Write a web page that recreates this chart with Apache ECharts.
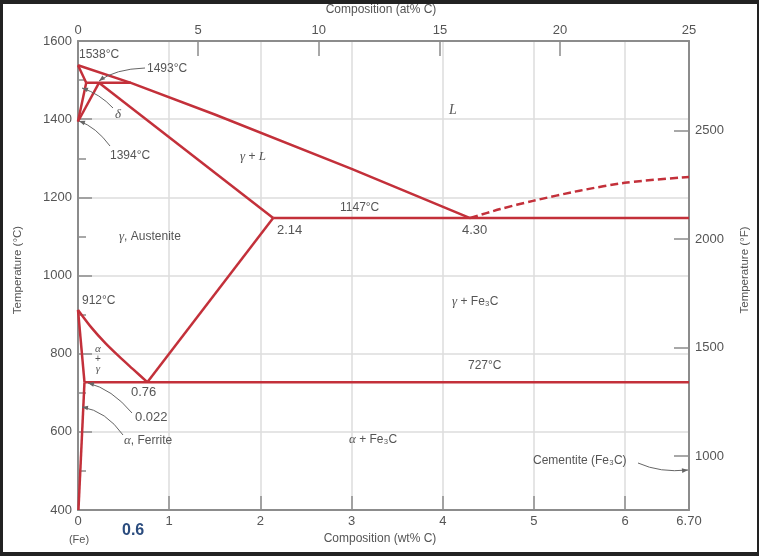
<!DOCTYPE html>
<html><head><meta charset="utf-8">
<script src="https://cdn.jsdelivr.net/npm/echarts@6/dist/echarts.min.js"></script>
<style>html,body{margin:0;padding:0;background:#fff}#c{width:759px;height:556px}</style>
</head><body><div id="c"></div>
<script>
// ---- axis ticks / labels ----
const wtTickLabels = [0, 1, 2, 3, 4, 5, 6, 6.70];
const wtTickMarks = [1, 2, 3, 4, 5, 6];
const atLabels = [0, 5, 10, 15, 20, 25];
const atPosWt = [0, 1.316, 2.64, 3.97, 5.285, 6.70];
const tempFTicks = [1000, 1500, 2000, 2500];

// ---- phase boundaries (wt% C, °C) ----
const liquidus = [[0, 1538], [0.58, 1493], [1.5, 1412], [3.0, 1273], [4.30, 1147]];
const deltaLiquidus = [[0, 1538], [0.09, 1493]];
const peritectic = [[0.09, 1493], [0.58, 1493]];
const deltaGammaLeft = [[0, 1394], [0.09, 1493]];
const deltaGammaRight = [[0, 1394], [0.23, 1493]];
const austeniteSolidus = [[0.23, 1493], [2.14, 1147]];
const eutectic = [[2.14, 1147], [6.70, 1147]];
const acmLine = [[0.76, 727], [2.14, 1147]];
const a3Line = [[0, 912], [0.15, 866], [0.30, 827], [0.45, 793], [0.60, 761], [0.76, 727]];
const alphaGamma = [[0, 912], [0.071, 727]];
const alphaSolvus = [[0.071, 727], [0.005, 400]];
const eutectoid = [[0.071, 727], [6.70, 727]];
const cementiteLiquidus = [[4.30, 1147], [4.63, 1170], [4.99, 1191], [5.50, 1217], [6.02, 1238], [6.70, 1252]];

const RED = '#c3303a';
const FONT = '"Liberation Sans", Arial, sans-serif';
const SERIF = '"Liberation Serif", "DejaVu Serif", serif';
const TXT = '#555';

const solid = [liquidus, deltaLiquidus, peritectic, deltaGammaLeft, deltaGammaRight,
  austeniteSolidus, eutectic, acmLine, alphaGamma, alphaSolvus, eutectoid];

const series = solid.map(d => ({
  type: 'line', data: d, symbol: 'none', silent: true, animation: false,
  xAxisIndex: 0, yAxisIndex: 0, lineStyle: { color: RED, width: 2.5 }
}));
series.push({ type: 'line', data: a3Line, symbol: 'none', smooth: 0.25, silent: true, animation: false,
  xAxisIndex: 0, yAxisIndex: 0, lineStyle: { color: RED, width: 2.5 } });
series.push({ type: 'line', data: cementiteLiquidus, symbol: 'none', smooth: 0.25, silent: true, animation: false,
  xAxisIndex: 0, yAxisIndex: 0, lineStyle: { color: RED, width: 2.5, type: [8, 4] } });

function T(x, y, text, o) {
  o = o || {};
  return { type: 'text', x: x, y: y, rotation: o.rot || 0, silent: true, z: 10,
    style: { text: text, x: 0, y: 0, fill: o.fill || TXT,
      font: (o.italic ? 'italic ' : '') + (o.weight || 'normal') + ' ' + (o.size || 12) + 'px ' + (o.family || FONT),
      textAlign: o.align || 'left', textVerticalAlign: 'middle', rich: o.rich } };
}
const greek = { g: { fontFamily: SERIF, fontStyle: 'italic', fontSize: 13, fill: TXT } };
const greekL = { g: { fontFamily: SERIF, fontStyle: 'italic', fontSize: 13, fill: TXT },
                 l: { fontFamily: SERIF, fontStyle: 'italic', fontSize: 13, fill: TXT } };

function arrow(x1, y1, cx, cy, x2, y2) {
  const a = Math.atan2(y2 - cy, x2 - cx);
  const L = 6, W = 2.3;
  const bx = x2 - L * Math.cos(a), by = y2 - L * Math.sin(a);
  const px = -Math.sin(a) * W, py = Math.cos(a) * W;
  return [
    { type: 'bezierCurve', silent: true, z: 10, shape: { x1: x1, y1: y1, x2: x2, y2: y2, cpx1: cx, cpy1: cy },
      style: { stroke: '#666', lineWidth: 1, fill: null } },
    { type: 'polygon', silent: true, z: 10, shape: { points: [[x2, y2], [bx + px, by + py], [bx - px, by - py]] },
      style: { fill: '#666' } }
  ];
}

const elements = [
  T(79, 55, '1538°C'),
  T(147, 69, '1493°C'),
  T(118, 115, 'δ', { family: SERIF, size: 13, align: 'center', italic: true }),
  T(110, 156, '1394°C'),
  T(240, 157, '{g|γ} + {l|L}', { rich: greekL }),
  T(453, 110, 'L', { family: SERIF, size: 14, align: 'center', italic: true }),
  T(340, 208, '1147°C'),
  T(277, 230, '2.14', { size: 13 }),
  T(462, 230, '4.30', { size: 13 }),
  T(119, 237, '{g|γ}, Austenite', { rich: greek }),
  T(82, 301, '912°C'),
  T(98, 349, 'α', { family: SERIF, size: 11, align: 'center', italic: true }),
  T(98, 359, '+', { size: 10, align: 'center' }),
  T(98, 369, 'γ', { family: SERIF, size: 11, align: 'center', italic: true }),
  T(452, 302, '{g|γ} + Fe₃C', { rich: greek }),
  T(468, 366, '727°C'),
  T(131, 392, '0.76', { size: 13 }),
  T(135, 417, '0.022', { size: 13 }),
  T(124, 441, '{g|α}, Ferrite', { rich: greek }),
  T(349, 440, '{g|α} + Fe₃C', { rich: greek }),
  T(533, 461, 'Cementite (Fe₃C)'),
  T(122, 531, '0.6', { size: 16, weight: 'bold', fill: '#2b4c7e' }),
  T(79, 540, '(Fe)', { size: 11, align: 'center' }),
  T(380, 539, 'Composition (wt% C)', { align: 'center' }),
  T(381, 10, 'Composition (at% C)', { align: 'center' }),
  T(18, 270, 'Temperature (°C)', { align: 'center', rot: Math.PI / 2, size: 11.5 }),
  T(745, 270, 'Temperature (°F)', { align: 'center', rot: Math.PI / 2, size: 11.5 }),
  ...arrow(145, 68, 115, 69, 99, 81),
  ...arrow(113, 108, 100, 94, 82, 88),
  ...arrow(110, 146, 96, 127, 79, 121),
  ...arrow(132, 413, 112, 389, 88, 383),
  ...arrow(123, 435, 106, 411, 82, 407),
  ...arrow(638, 463, 660, 473, 688, 470),
  { type: 'rect', silent: true, z: 100, shape: { x: 0, y: 0, width: 759, height: 4 }, style: { fill: '#222' } },
  { type: 'rect', silent: true, z: 100, shape: { x: 0, y: 0, width: 3, height: 556 }, style: { fill: '#222' } },
  { type: 'rect', silent: true, z: 100, shape: { x: 0, y: 552, width: 759, height: 4 }, style: { fill: '#222' } },
  { type: 'rect', silent: true, z: 100, shape: { x: 757, y: 0, width: 2, height: 556 }, style: { fill: '#222' } }
];

const AX = { color: '#8c8c8c', width: 2 };
const TK = { color: '#8c8c8c', width: 1.5 };
const LBL = { color: TXT, fontSize: 13, fontFamily: FONT };
const plain = v => String(v);

const option = {
  animation: false,
  backgroundColor: '#fff',
  grid: { left: 78, right: 70, top: 41, bottom: 46, containLabel: false },
  xAxis: [
    { type: 'value', position: 'bottom', min: 0, max: 6.70, interval: 1,
      axisLine: { show: true, onZero: false, lineStyle: AX },
      axisTick: { show: true, inside: true, length: 14, customValues: wtTickMarks, lineStyle: TK },
      axisLabel: Object.assign({ margin: 5, customValues: wtTickLabels,
        formatter: v => (Math.abs(v - 6.7) < 1e-6 ? '6.70' : String(v)) }, LBL),
      splitLine: { show: true, lineStyle: { color: '#dcdcdc', width: 1.5 } } },
    { type: 'value', position: 'top', min: 0, max: 6.70,
      axisLine: { show: true, onZero: false, lineStyle: AX },
      axisTick: { show: true, inside: true, length: 15, customValues: atPosWt.slice(1, 5), lineStyle: TK },
      axisLabel: Object.assign({ margin: 4, customValues: atPosWt,
        formatter: v => { const i = atPosWt.findIndex(p => Math.abs(p - v) < 1e-6); return i >= 0 ? String(atLabels[i]) : ''; } }, LBL),
      splitLine: { show: false } }
  ],
  yAxis: [
    { type: 'value', position: 'left', min: 400, max: 1600, interval: 200,
      axisLine: { show: true, onZero: false, lineStyle: AX },
      axisTick: { show: true, inside: true, length: 14, lineStyle: TK },
      minorTick: { show: true, splitNumber: 2, length: 8, lineStyle: TK },
      axisLabel: Object.assign({ margin: 6, formatter: plain }, LBL),
      splitLine: { show: true, lineStyle: { color: '#dcdcdc', width: 1.5 } } },
    { type: 'value', position: 'right', min: 752, max: 2912,
      axisLine: { show: true, onZero: false, lineStyle: AX },
      axisTick: { show: true, inside: true, length: 15, customValues: tempFTicks, lineStyle: TK },
      axisLabel: Object.assign({ margin: 6, customValues: tempFTicks, formatter: plain }, LBL),
      splitLine: { show: false } }
  ],
  series: series,
  graphic: { elements: elements }
};

const chart = echarts.init(document.getElementById('c'), null, { renderer: 'canvas' });
chart.setOption(option);
</script></body></html>
